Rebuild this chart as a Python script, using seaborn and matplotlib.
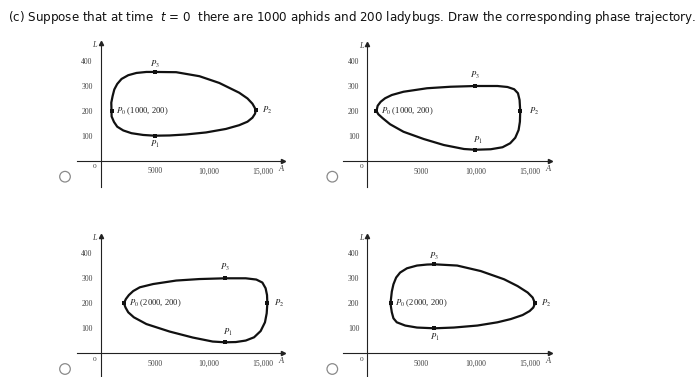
import matplotlib
matplotlib.use("Agg")
import matplotlib.pyplot as plt
import seaborn as sns
from matplotlib.patches import Ellipse

TITLE = ("(c) Suppose that at time  $t$ = 0  there are 1000 aphids and 200 ladybugs. "
         "Draw the corresponding phase trajectory.")

X_TICKS = [5000, 10000, 15000]
X_TICK_LABELS = ["5000", "10,000", "15,000"]
Y_TICKS = [100, 200, 300, 400]
Y_TICK_LABELS = ["100", "200", "300", "400"]
POINT_NAMES = ["$P_0$", "$P_1$", "$P_2$", "$P_3$"]

# trajectories (A = aphids, L = ladybugs)
a_top_left = [1000, 980, 1100, 1260, 1530, 1930, 2550, 3310, 4230, 5000,
              6990, 9140, 10980, 12820, 13590, 14050, 14260, 14350,
              14290, 14050, 13590, 12820, 11590, 9750, 7910, 6380, 5000,
              3930, 2850, 2090, 1530, 1230, 1010, 1000]
l_top_left = [200, 232, 258, 285, 307, 327, 342, 351, 355, 355,
              354, 338, 311, 272, 249, 228, 212, 201,
              188, 172, 156, 142, 127, 113, 105, 101, 100,
              103, 110, 121, 136, 155, 177, 200]
pa_top_left = [1000, 5000, 14350, 5000]
pl_top_left = [200, 100, 201, 355]

a_top_right = [850, 960, 1240, 1650, 2270, 3350, 5530, 7700, 10000,
               12050, 12980, 13600, 13950, 14100, 14160,
               14130, 14010, 13700, 13230, 12520, 11430, 10000,
               8950, 7080, 5220, 3350, 2110, 1430, 1020, 850]
l_top_right = [200, 221, 237, 251, 264, 277, 291, 297, 300,
               300, 296, 287, 271, 244, 200,
               157, 124, 93, 71, 55, 47, 45,
               48, 64, 88, 117, 147, 171, 187, 200]
pa_top_right = [850, 10000, 14160, 10000]
pl_top_right = [200, 45, 200, 300]

a_bot_left = [2150, 2330, 2610, 3010, 3620, 4850, 6990, 9140, 11500,
              13430, 14410, 14970, 15270, 15400, 15430,
              15370, 15210, 14810, 14200, 13430, 12510, 11500,
              10370, 8530, 6380, 4230, 3070, 2550, 2300, 2150]
l_bot_left = [200, 217, 233, 249, 264, 277, 291, 297, 300,
              300, 295, 283, 260, 233, 200,
              160, 124, 89, 64, 51, 45, 44,
              47, 63, 87, 117, 144, 164, 183, 200]
pa_bot_left = [2150, 11500, 15430, 11500]
pl_bot_left = [200, 44, 200, 300]

a_bot_right = [2150, 2200, 2270, 2420, 2670, 3040, 3670, 4600, 5530, 6210,
               8320, 10500, 12670, 13910, 14850, 15310, 15530,
               15370, 15030, 14380, 13290, 12050, 10190, 8010, 6210,
               4600, 3510, 2730, 2420, 2270, 2200, 2150]
l_bot_right = [200, 220, 247, 276, 303, 323, 340, 351, 355, 356,
               351, 329, 296, 269, 243, 223, 200,
               183, 169, 153, 137, 124, 111, 103, 100,
               103, 111, 124, 140, 164, 183, 200]
pa_bot_right = [2150, 6210, 15530, 6210]
pl_bot_right = [200, 100, 200, 356]

# pixel layout of the 700x377 picture
W, H = 700, 377
XMIN, XMAX, YMIN, YMAX = -2220, 16900, -104, 470
SX, SY = 54 / 5000, 25 / 100

panels = [
    dict(a=a_top_left, l=l_top_left, pa=pa_top_left, pl=pl_top_left, p0="(1000, 200)",
         origin=(100.7, 160.7), radio=(65, 176.7),
         offs=[(5, 0), (0, -9), (6, 0), (0, 8)]),
    dict(a=a_top_right, l=l_top_right, pa=pa_top_right, pl=pl_top_right, p0="(1000, 200)",
         origin=(367.3, 161), radio=(332.3, 176.7),
         offs=[(5, 0), (3, 9), (9, 0), (0, 11)]),
    dict(a=a_bot_left, l=l_bot_left, pa=pa_bot_left, pl=pl_bot_left, p0="(2000, 200)",
         origin=(100.7, 353.3), radio=(65, 369),
         offs=[(5, 0), (3, 10), (7, 0), (0, 11)]),
    dict(a=a_bot_right, l=l_bot_right, pa=pa_bot_right, pl=pl_bot_right, p0="(2000, 200)",
         origin=(367.3, 353.3), radio=(332.3, 369),
         offs=[(4, 0), (0, -9), (6, 0), (0, 8)]),
]

sns.set_style("white")
plt.rcParams["font.family"] = ["DejaVu Sans"]
SERIF = ["Liberation Serif", "DejaVu Serif"]


def place_axes(fig, ox, oy):
    left = ox + XMIN * SX
    bottom = oy - YMIN * SY
    w = (XMAX - XMIN) * SX
    h = (YMAX - YMIN) * SY
    ax = fig.add_axes([left / W, (H - bottom) / H, w / W, h / H])
    ax.set_xlim(XMIN, XMAX)
    ax.set_ylim(YMIN, YMAX)
    ax.patch.set_alpha(0)
    return ax


def draw_panel(fig, p):
    ax = place_axes(fig, *p["origin"])
    for side in ["top", "right"]:
        ax.spines[side].set_visible(False)
    for side in ["left", "bottom"]:
        ax.spines[side].set_position(("data", 0))
        ax.spines[side].set_linewidth(0.8)
        ax.spines[side].set_color("#222")
    ax.set_xticks(X_TICKS, X_TICK_LABELS)
    ax.set_yticks(Y_TICKS, Y_TICK_LABELS)
    ax.tick_params(direction="inout", length=5, width=1.0, labelsize=5.6, pad=2.3,
                   labelcolor="#444", color="#111")
    ax.tick_params(axis="y", pad=3.3)
    for lab in ax.get_xticklabels() + ax.get_yticklabels():
        lab.set_family(SERIF)

    # arrow heads
    ax.plot([XMAX], [0], ">", ms=3, color="#222", clip_on=False)
    ax.plot([0], [YMAX], "^", ms=3, color="#222", clip_on=False)
    ax.annotate("L", (0, YMAX), xytext=(-6, -2), textcoords="offset pixels",
                ha="center", va="center", fontsize=6, style="italic", family=SERIF, color="#444")
    ax.annotate("A", (XMAX, 0), xytext=(-2, -8), textcoords="offset pixels",
                ha="center", va="center", fontsize=6, style="italic", family=SERIF, color="#444")
    ax.annotate("0", (0, 0), xytext=(-6, -6), textcoords="offset pixels",
                ha="center", va="center", fontsize=5.4, family=SERIF, color="#444")

    sns.lineplot(x=p["a"], y=p["l"], sort=False, estimator=None, color="#111",
                 lw=1.6, ax=ax, solid_joinstyle="round")
    sns.scatterplot(x=p["pa"], y=p["pl"], marker="s", s=7, color="#111",
                    linewidth=0, ax=ax, zorder=3)

    for i, (x, y) in enumerate(zip(p["pa"], p["pl"])):
        dx, dy = p["offs"][i]
        text = POINT_NAMES[i] + (" " + p["p0"] if i == 0 else "")
        ha = "left" if i in (0, 2) else "center"
        ax.annotate(text, (x, y), xytext=(dx, dy), textcoords="offset pixels",
                    ha=ha, va="center", fontsize=6.2, family=SERIF,
                    math_fontfamily="stix", color="#222")

    rx, ry = p["radio"]
    fig.add_artist(Ellipse((rx / W, 1 - ry / H), 10.6 / W, 10.6 / H,
                           transform=fig.transFigure, fill=False,
                           edgecolor="#8a8a8a", lw=0.9))


fig = plt.figure(figsize=(7, 3.77), dpi=100)
fig.text(8 / W, 1 - 17 / H, TITLE, fontsize=8.55, va="center", ha="left",
         math_fontfamily="dejavusans", color="#111")
for p in panels:
    draw_panel(fig, p)

fig.savefig("out.png", dpi=100)
